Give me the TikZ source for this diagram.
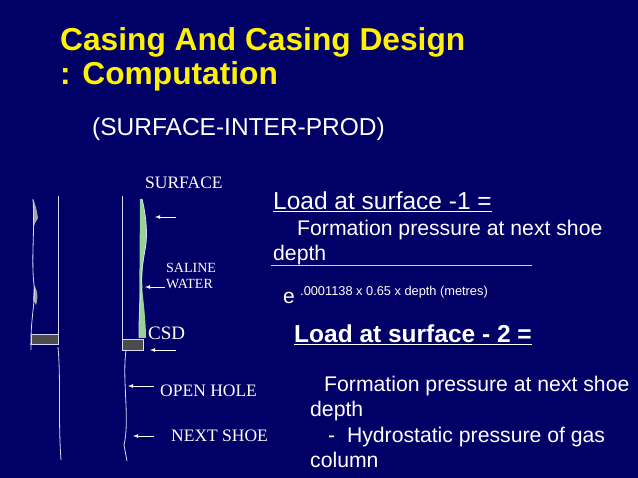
\documentclass[tikz,border=0pt]{standalone}
\usepackage{fontspec}
\setmainfont{Liberation Sans}
\newfontfamily\tms{Liberation Serif}
\definecolor{palegreen}{RGB}{150,210,150}
\definecolor{navybg}{RGB}{0,0,102}
\begin{document}
\begin{tikzpicture}[x=1pt,y=-1pt,
  txt/.style={anchor=base west,inner sep=0,text=white},
  lbl/.style={anchor=base west,inner sep=0,text=white,font=\tms\fontsize{17.5}{17.5}\selectfont},
  wall/.style={draw=white!85!blue,line width=0.8pt},
  arr/.style={draw=white,line width=0.8pt,-latex}]
\fill[navybg] (0,0) rectangle (638,478);
\useasboundingbox (0,0) rectangle (638,478);
% title
\node[txt,text=yellow,font=\bfseries\fontsize{31.7}{31.7}\selectfont] (t1) at (60,51) {Casing And Casing Design};
\node[txt,text=yellow,font=\bfseries\fontsize{31.7}{31.7}\selectfont] (t2) at (60,85) {: Computation};
\node[txt,font=\fontsize{24.5}{24.5}\selectfont] (st) at (92,136) {(SURFACE-INTER-PROD)};
% left well
\fill[gray!70] (33,199) .. controls (36,205) and (37,212) .. (38,218) .. controls (36,222) and (34,224) .. (34,226) -- cycle;
\fill[gray!70] (34,285) .. controls (38,290) and (38,300) .. (36,305) -- (33,300) -- cycle;
\draw[wall] (58,196) -- (58,343);
\draw[wall] (33,199) .. controls (35,230) and (31,260) .. (34,285) .. controls (36,300) and (30,320) .. (31,350);
\draw[wall,fill=gray!60!black] (31,334) rectangle (58,344);
\draw[wall] (58,347) .. controls (61,380) and (58,420) .. (61,460);
% right well
\fill[palegreen] (142,199) .. controls (146,215) and (148,235) .. (145,250) .. controls (143,262) and (142,275) .. (142,287) .. controls (144,305) and (146,325) .. (146,338) -- (139,338) -- (140,199) -- cycle;
\draw[wall] (122,196) -- (122,350);
\draw[wall] (142,199) .. controls (146,215) and (148,235) .. (145,250) .. controls (143,262) and (140,275) .. (142,287) .. controls (139,305) and (139,325) .. (139,338);
\draw[wall,fill=gray!60!black] (122,339) rectangle (143,350);
\draw[wall] (126,350) .. controls (122,380) and (130,420) .. (124,445) -- (127,461);
% arrows
\coordinate (a1s) at (176,217); \coordinate (a1e) at (155,217);
\coordinate (a2s) at (165,287); \coordinate (a2e) at (145,287);
\coordinate (a3s) at (176,350); \coordinate (a3e) at (150,350);
\coordinate (a4s) at (154,386); \coordinate (a4e) at (128,386);
\coordinate (a5s) at (154,436); \coordinate (a5e) at (133,436);
\foreach \i in {1,...,5} \draw[arr] (a\i s) -- (a\i e);
% labels
\node[lbl] (surf) at (145,189) {SURFACE};
\node[lbl,font=\tms\fontsize{14}{14}\selectfont] (sal) at (166,273) {SALINE};
\node[lbl,font=\tms\fontsize{14}{14}\selectfont] (wat) at (166,289) {WATER};
\node[lbl,font=\tms\fontsize{19}{19}\selectfont] (csd) at (148,340) {CSD};
\node[lbl] (oh) at (160,397) {OPEN HOLE};
\node[lbl] (ns) at (171,442) {NEXT SHOE};
% right text
\node[txt,font=\fontsize{24.5}{24.5}\selectfont] (l1) at (273,210) {\underline{Load at surface -1 =}};
\node[txt,font=\fontsize{21.2}{21.2}\selectfont] (f1) at (297,236) {Formation pressure at next shoe};
\node[txt,font=\fontsize{21.2}{21.2}\selectfont] (d1) at (273,261) {depth};
\draw[white!80!blue,line width=0.6pt] (271,265) -- (532,265);
\node[txt,font=\fontsize{21}{21}\selectfont] (e) at (283,304) {e};
\node[txt,font=\fontsize{12.8}{12.8}\selectfont] (ex) at (300,296) {.0001138 x 0.65 x depth (metres)};
\node[txt,font=\bfseries\fontsize{24.5}{24.5}\selectfont] (l2) at (294,343) {\underline{Load at surface - 2 =}};
\node[txt,font=\fontsize{21.2}{21.2}\selectfont] (f2) at (324,392) {Formation pressure at next shoe};
\node[txt,font=\fontsize{21.2}{21.2}\selectfont] (d2) at (310,417) {depth};
\node[txt,font=\fontsize{21.2}{21.2}\selectfont] (h2) at (328,443) {-\ \ Hydrostatic pressure of gas};
\node[txt,font=\fontsize{21.2}{21.2}\selectfont] (c2) at (310,468) {column};
\end{tikzpicture}
\end{document}
